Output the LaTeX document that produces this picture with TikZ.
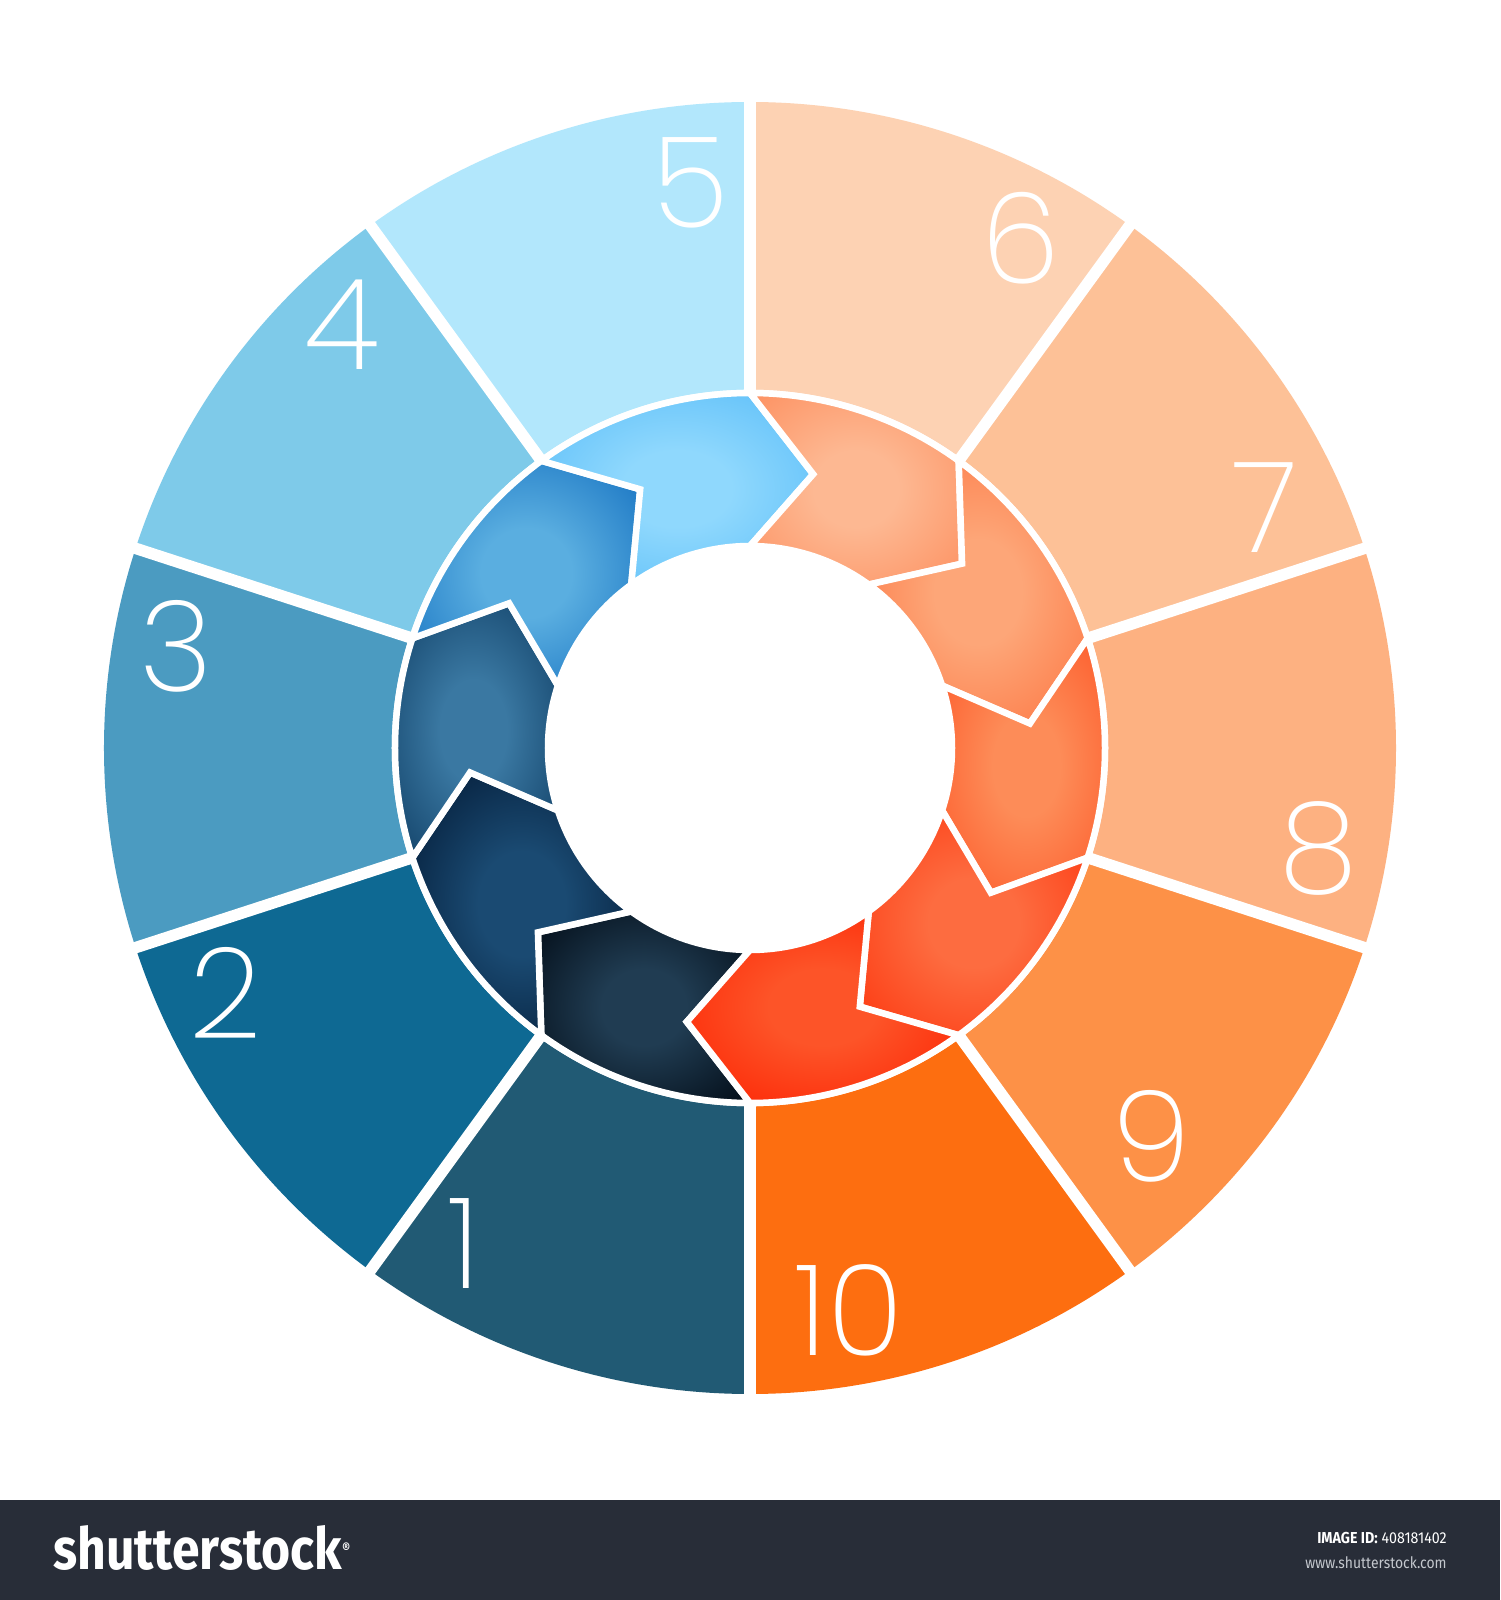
\documentclass[tikz,border=0pt]{standalone}
\usepackage{fontspec}
\usepackage{graphicx}
\setmainfont{Lato}
\newfontfamily\numfont{Poppins ExtraLight}
\newfontfamily\barfont{Fira Sans}
\usetikzlibrary{calc}

\definecolor{o1}{HTML}{215A74}
\definecolor{o2}{HTML}{0E6993}
\definecolor{o3}{HTML}{4B9BC1}
\definecolor{o4}{HTML}{7ECAE9}
\definecolor{o5}{HTML}{B2E7FC}
\definecolor{o6}{HTML}{FDD2B3}
\definecolor{o7}{HTML}{FDC197}
\definecolor{o8}{HTML}{FDB181}
\definecolor{o9}{HTML}{FD9147}
\definecolor{o10}{HTML}{FD6E10}
\definecolor{il1}{HTML}{203C52}
\definecolor{id1}{HTML}{010A14}
\definecolor{il2}{HTML}{1A4A72}
\definecolor{id2}{HTML}{011630}
\definecolor{il3}{HTML}{3A78A2}
\definecolor{id3}{HTML}{0E3C62}
\definecolor{il4}{HTML}{5AAEE0}
\definecolor{id4}{HTML}{1470C0}
\definecolor{il5}{HTML}{8FD8FD}
\definecolor{id5}{HTML}{58BCF8}
\definecolor{il6}{HTML}{FDB892}
\definecolor{id6}{HTML}{FD9060}
\definecolor{il7}{HTML}{FDA678}
\definecolor{id7}{HTML}{FD7440}
\definecolor{il8}{HTML}{FD8C58}
\definecolor{id8}{HTML}{FD5828}
\definecolor{il9}{HTML}{FD6C40}
\definecolor{id9}{HTML}{FD360E}
\definecolor{il10}{HTML}{FD5428}
\definecolor{id10}{HTML}{FD2000}
\definecolor{barbg}{HTML}{282D38}
\definecolor{bargray}{HTML}{C4C8CE}

\pgfdeclareradialshading[lite,dark]{piece}{\pgfpoint{0bp}{0bp}}{color(0bp)=(lite); color(10bp)=(lite); color(36bp)=(dark); color(50bp)=(dark)}

\tikzset{
    seamline/.style={white,line width=2.3mm},
    ringline/.style={white,line width=1.3mm},
    numlabel/.style={text=white,font=\numfont\fontsize{72}{72}\selectfont,inner sep=0pt}
}

\begin{document}
\begin{tikzpicture}[x=0.2mm,y=0.2mm]
    \useasboundingbox (-750,-852) rectangle (750,748);
    \fill[white] (-750,-852) rectangle (750,748);
    % outer sectors
    \foreach \i in {1,...,10}{
        \pgfmathsetmacro\s{306-36*\i}
        \pgfmathsetmacro\e{270-36*\i}
        \fill[o\i] (\s:355) -- (\s:646) arc[start angle=\s,end angle=\e,radius=646] -- (\e:355) arc[start angle=\e,end angle=\s,radius=355] -- cycle;
    }
    \foreach \a in {90,54,...,-234}
        \draw[seamline] (\a:350) -- (\a:660);
    \draw[ringline] (0,0) circle[radius=355];
    % inner arrows
    \foreach \i in {1,...,10}{
        \pgfmathsetmacro\s{306-36*\i}
        \pgfmathsetmacro\e{270-36*\i}
        \colorlet{lite}{il\i}
        \colorlet{dark}{id\i}
        \shadedraw[shading=piece,ringline] (\s:355) arc[start angle=\s,end angle=\e,radius=355] -- (\e-13:281) -- (\e:202) arc[start angle=\e,end angle=\s,radius=202] -- (\s-13:281) -- cycle;
    }
    \fill[white] (0,0) circle[radius=199];
    % numbers
    \foreach \i/\a/\r in {1/240/572,2/205/579,3/170/583,4/134/588,5/96/568,6/62/577,7/25/569,8/-10/577,9/-44/559,10/-80/571}
        \node[numlabel] (n\i) at (\a:\r) {\i};
    % bottom bar
    \fill[barbg] (-750,-852) rectangle (750,-752);
    \node[anchor=west,text=white,font=\barfont\bfseries\fontsize{33}{33}\selectfont,inner sep=0pt] (logo) at (-697,-800) {\scalebox{0.86}[1]{shutterstock\textsuperscript{\fontsize{8}{8}\selectfont ®}}};
    \node[anchor=east,text=white,font=\barfont\fontsize{9}{10}\selectfont,inner sep=0pt] (imgid) at (697,-790) {\scalebox{0.9}[1]{\textbf{IMAGE ID:} 408181402}};
    \node[anchor=east,text=bargray,font=\barfont\fontsize{9}{10}\selectfont,inner sep=0pt] (site) at (697,-815) {\scalebox{0.88}[1]{www.shutterstock.com}};
\end{tikzpicture}
\end{document}
